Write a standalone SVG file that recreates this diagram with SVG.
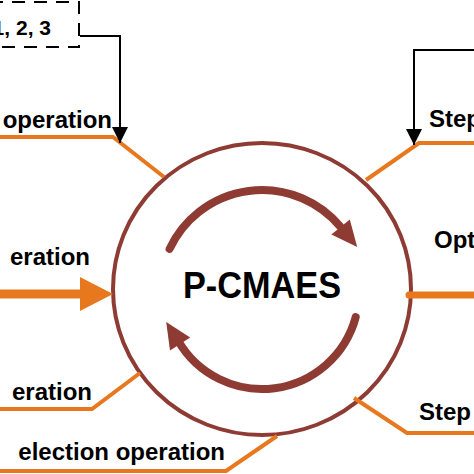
<svg xmlns="http://www.w3.org/2000/svg" width="474" height="474" viewBox="0 0 474 474">
<style>
.lbl{font-family:"Liberation Sans",Arial,sans-serif;font-weight:bold;font-size:24px;fill:#000}
.or{fill:none;stroke:#E8781E;stroke-width:4;stroke-linejoin:miter}
.blk{fill:none;stroke:#000;stroke-width:2}
.br{fill:none;stroke:#8E3B34}
</style>
<defs>
<marker id="ah" markerUnits="userSpaceOnUse" markerWidth="18" markerHeight="18" refX="16" refY="8" orient="auto" viewBox="0 0 18 16">
<path d="M0,0 L16,8 L0,16 Z" fill="#000"/>
</marker>
</defs>
<rect width="474" height="474" fill="#fff"/>

<g id="box-iter">
<rect x="-10" y="2" width="89" height="45" fill="none" stroke="#000" stroke-width="2" stroke-dasharray="13 9"/>
<text class="lbl" x="51" y="35" text-anchor="end" style="font-size:21px">1, 2, 3</text>
</g>

<g id="node-center">
<ellipse cx="262" cy="289" rx="149" ry="146" class="br" stroke-width="4"/>
<path d="M169.6 248.9 A102 102 0 0 1 340.1 226.4" class="br" stroke-width="8" stroke-linecap="round"/>
<polygon points="349.8,219.4 357.2,247 331.4,234.6" fill="#8E3B34"/>
<path d="M355.7 317.1 A97 97 0 0 1 178 340.5" class="br" stroke-width="8" stroke-linecap="round"/>
<polygon points="170,350.4 166.2,322 190.2,337.6" fill="#8E3B34"/>
<text x="262" y="298" text-anchor="middle" font-family="Liberation Sans, Arial, sans-serif" font-weight="bold" font-size="36" textLength="158" lengthAdjust="spacingAndGlyphs">P-CMAES</text>
</g>

<g id="label-left-1"><text class="lbl" x="112" y="128" text-anchor="end">operation</text></g>
<g id="label-left-2"><text class="lbl" x="90" y="265" text-anchor="end">eration</text></g>
<g id="label-left-3"><text class="lbl" x="92" y="400" text-anchor="end">eration</text></g>
<g id="label-left-4"><text class="lbl" x="225" y="460" text-anchor="end">election operation</text></g>
<g id="label-right-1"><text class="lbl" x="429" y="127">Step</text></g>
<g id="label-right-2"><text class="lbl" x="434" y="248">Opt</text></g>
<g id="label-right-3"><text class="lbl" x="419" y="420">Step</text></g>

<g id="connectors">
<path class="or" d="M0 137 H113 L164 177"/>
<path class="or" d="M474 143 H419 L366 180"/>
<path class="or" d="M0 409 H92 L140 373"/>
<path class="or" d="M0 471 H226 L277 436"/>
<path class="or" d="M354 398 L407 433 H474"/>
<path d="M0 294 H84" stroke="#E8781E" stroke-width="9" fill="none"/>
<polygon points="80,277 113,294 80,311" fill="#E8781E"/>
<path d="M409 295 H474" stroke="#E8781E" stroke-width="7" stroke-linecap="round" fill="none"/>
<path class="blk" d="M80 36 H120 V143" marker-end="url(#ah)"/>
<path class="blk" d="M474 50 H414 V145" marker-end="url(#ah)"/>
</g>
</svg>
